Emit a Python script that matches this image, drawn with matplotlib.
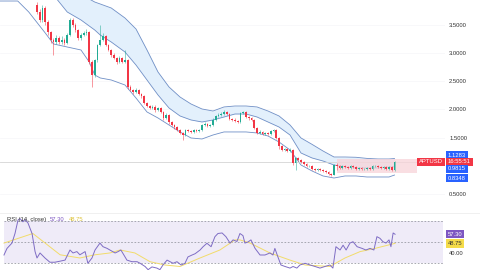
import matplotlib
matplotlib.use('Agg')
import matplotlib.pyplot as plt
from matplotlib.lines import Line2D
from matplotlib.patches import Rectangle
import matplotlib.transforms as mtransforms

# ---------------- data ----------------
first_open = 3.855
closes = [3.731, 3.589, 3.802, 3.553, 3.376, 3.234, 3.198, 3.269, 3.198, 3.234,
          3.180, 3.322, 3.589, 3.500, 3.411, 3.269, 3.322, 3.358, 3.376, 2.843,
          2.612, 2.878, 3.145, 3.234, 3.305, 3.145, 3.056, 2.967, 2.914, 2.843,
          2.914, 2.843, 2.878, 2.399, 2.345, 2.310, 2.345, 2.274, 2.239, 2.115,
          2.061, 2.026, 2.044, 1.990, 2.026, 1.955, 1.848, 1.901, 1.777, 1.724,
          1.688, 1.635, 1.582, 1.546, 1.635, 1.617, 1.600, 1.635, 1.617, 1.635,
          1.724, 1.742, 1.706, 1.724, 1.813, 1.884, 1.901, 1.919, 1.955, 1.919,
          1.830, 1.813, 1.795, 1.777, 1.937, 1.955, 1.866, 1.848, 1.813, 1.671,
          1.582, 1.600, 1.564, 1.582, 1.564, 1.617, 1.635, 1.493, 1.351, 1.280,
          1.298, 1.262, 1.280, 1.049, 1.138, 1.102, 1.067, 1.031, 0.995, 0.995,
          0.942, 0.924, 0.942, 0.924, 0.907, 0.889, 0.853, 0.836, 1.013, 0.995,
          0.960, 0.995, 0.978, 0.960, 0.995, 0.978, 0.942, 0.960, 0.942, 0.942,
          0.960, 0.942, 0.995, 0.995, 0.978, 0.960, 0.978, 0.942, 0.978, 0.924,
          1.067]
highs = [3.90, 3.78, 3.85, 3.83, 3.58, 3.40, 3.27, 3.32, 3.30, 3.30,
         3.27, 3.35, 3.62, 3.62, 3.53, 3.43, 3.36, 3.40, 3.42, 3.40,
         2.87, 2.90, 3.17, 3.50, 3.35, 3.33, 3.17, 3.08, 3.00, 2.94,
         2.95, 2.94, 3.05, 2.90, 2.43, 2.37, 2.38, 2.37, 2.30, 2.26,
         2.14, 2.08, 2.07, 2.07, 2.05, 2.05, 1.98, 1.93, 1.92, 1.80,
         1.75, 1.71, 1.66, 1.60, 1.66, 1.66, 1.64, 1.66, 1.65, 1.66,
         1.75, 1.77, 1.76, 1.75, 1.84, 1.91, 1.93, 1.95, 1.99, 1.97,
         1.94, 1.85, 1.84, 1.82, 1.96, 1.98, 1.97, 1.89, 1.87, 1.83,
         1.69, 1.63, 1.62, 1.60, 1.60, 1.64, 1.66, 1.65, 1.51, 1.37,
         1.32, 1.32, 1.31, 1.30, 1.16, 1.16, 1.12, 1.09, 1.05, 1.02,
         1.01, 0.96, 0.96, 0.96, 0.94, 0.92, 0.90, 0.87, 1.03, 1.04,
         1.01, 1.02, 1.01, 0.99, 1.02, 1.01, 0.99, 0.98, 0.97, 0.96,
         0.98, 0.97, 1.01, 1.01, 1.01, 0.99, 0.99, 0.99, 0.99, 0.99,
         1.09]
lows = [3.70, 3.55, 3.56, 3.50, 3.33, 3.18, 2.97, 3.17, 3.16, 3.17,
        3.14, 3.16, 3.30, 3.47, 3.38, 3.24, 3.24, 3.30, 3.33, 2.80,
        2.40, 2.58, 2.85, 3.12, 3.21, 3.12, 3.03, 2.94, 2.89, 2.81,
        2.82, 2.82, 2.82, 2.36, 2.32, 2.28, 2.29, 2.25, 2.21, 2.09,
        2.04, 2.00, 2.00, 1.96, 1.97, 1.93, 1.82, 1.83, 1.75, 1.70,
        1.66, 1.61, 1.56, 1.45, 1.53, 1.60, 1.58, 1.58, 1.60, 1.60,
        1.62, 1.70, 1.69, 1.69, 1.71, 1.80, 1.87, 1.89, 1.90, 1.90,
        1.81, 1.79, 1.78, 1.76, 1.76, 1.92, 1.85, 1.82, 1.79, 1.65,
        1.56, 1.57, 1.55, 1.55, 1.55, 1.55, 1.60, 1.47, 1.30, 1.26,
        1.26, 1.24, 1.25, 1.02, 0.92, 1.08, 1.05, 1.01, 0.98, 0.97,
        0.93, 0.90, 0.91, 0.91, 0.89, 0.87, 0.84, 0.82, 0.83, 0.92,
        0.94, 0.95, 0.96, 0.94, 0.95, 0.96, 0.93, 0.93, 0.93, 0.93,
        0.93, 0.93, 0.93, 0.98, 0.96, 0.94, 0.95, 0.93, 0.93, 0.91,
        0.91]

band_x = [-14, -7, -3, 3, 6, 11, 16, 19, 21, 23, 27, 32, 36, 40, 44, 48, 52, 56,
          60, 64, 68, 72, 76, 80, 84, 88, 92, 96, 100, 104, 108, 112, 116, 120,
          124, 128, 130]
band_upper = [5.010, 4.921, 4.832, 4.743, 4.654, 4.477, 4.210, 3.962, 3.908, 3.873,
              3.802, 3.624, 3.429, 3.056, 2.665, 2.399, 2.221, 2.097, 2.008, 1.972,
              2.044, 2.061, 2.061, 2.044, 1.972, 1.884, 1.724, 1.493, 1.380, 1.262,
              1.155, 1.155, 1.150, 1.130, 1.120, 1.120, 1.1283]
band_basis = [4.654, 4.566, 4.441, 4.210, 4.033, 3.731, 3.589, 3.482, 3.411, 3.322,
              3.198, 3.020, 2.789, 2.523, 2.257, 2.026, 1.884, 1.813, 1.777, 1.813,
              1.866, 1.919, 1.919, 1.866, 1.777, 1.688, 1.546, 1.226, 1.138, 1.084,
              1.013, 0.978, 0.960, 0.960, 0.960, 0.978, 0.9815]
band_lower = [3.926, 3.926, 3.731, 3.358, 3.163, 3.109, 3.056, 2.843, 2.612, 2.559,
              2.523, 2.434, 2.203, 1.955, 1.848, 1.724, 1.600, 1.493, 1.475, 1.546,
              1.600, 1.600, 1.600, 1.582, 1.528, 1.422, 1.280, 1.013, 0.907, 0.818,
              0.782, 0.818, 0.818, 0.800, 0.800, 0.800, 0.8348]

rsi_x = [-12, -10.9, -9.1, -8, -6.9, -6.2, -5.1, -4.4, -3.3, -1.8, -0.7, 0, 1.1, 2.9,
         4.7, 6.5, 8.4, 10.2, 12, 13.1, 14.5, 15.6, 17.5, 18.5, 20, 21.1, 22.9, 24,
         25.5, 26.5, 28.4, 29.5, 30.5, 31.6, 32.7, 34.5, 36.4, 37.5, 39.3, 40.4,
         41.8, 43.6, 44.7, 45.8, 47.3, 48.4, 49.5, 50.9, 52.4, 53.8, 54.9, 56.4,
         57.5, 59.3, 60.4, 61.8, 63.3, 64.7, 65.8, 67.3, 68.7, 70.2, 71.3, 72.7,
         73.8, 74.9, 75.6, 76.7, 77.8, 79.3, 81.1, 82.9, 84.7, 85.8, 86.5, 87.6,
         88.7, 90.2, 92, 93.1, 94.5, 95.6, 97.5, 99.3, 101.1, 102.9, 104.7, 106.5,
         107.6, 108.7, 110.2, 111.3, 112.4, 113.8, 114.9, 116.4, 118.2, 119.6,
         121.1, 122.5, 123.6, 124.7, 125.8, 126.9, 128, 128.7, 129.5, 130.2]
rsi = [37.8, 44, 49, 58, 70.6, 72, 69, 71, 68, 58, 41, 35, 39.7, 35,
       31, 31, 32, 33, 42.5, 39.7, 41, 38, 41, 30, 35, 42.5, 49, 45.6,
       44, 42.5, 39.7, 41, 42.5, 37.8, 33, 31.5, 31.5, 30, 27, 24,
       26.6, 25.5, 24, 28.4, 33, 31.5, 30, 31.5, 28.4, 30, 36, 37.8,
       39, 42.5, 45.6, 48.8, 45.6, 55, 58, 58.5, 55, 49, 52, 50.5,
       58, 56, 49, 50, 52, 44, 37.8, 37.8, 39.7, 37.8, 44, 36,
       28.4, 27, 25.5, 27, 25.5, 28.4, 30, 28.4, 27, 25.5, 27, 28.4,
       25.5, 45.6, 42.5, 47, 42.5, 49, 50.3, 45.6, 44, 42.5,
       44, 42.5, 55, 53.5, 50.3, 49, 52, 45.6, 58.5, 57.30]
rsi_ma_x = [-12, -1.5, 8.4, 15.6, 21.1, 26.5, 30.2, 35.6, 41.1, 46.5, 52, 59.3,
            66.5, 72, 73.8, 77.5, 84.7, 92, 97.5, 106.5, 112, 117.5, 122.9, 130.2]
rsi_ma = [49, 58, 38, 35, 38, 39.7, 42.5, 39.7, 31.5, 28.4, 27, 35,
          42.5, 52, 52, 49, 39.7, 33, 28.4, 27, 35, 41, 44, 48.75]
rsi_levels = [70, 50, 30]

price_ticks = [0.5, 1.5, 2.0, 2.5, 3.0, 3.5]
highlight_x = (109.1, 138.2)
highlight_y = (0.871, 1.120)
symbol = "APTUSD"
countdown = "16:55:51"
rsi_title = "RSI (14, close)"

# ---------------- style ----------------
UP, DOWN = '#22ab94', '#f23645'
BAND = '#6f8fc6'
FS = 4.2
plt.rcParams['font.family'] = ['Liberation Sans', 'DejaVu Sans']

W, H = 480, 270
fig = plt.figure(figsize=(4.8, 2.7), dpi=100)
fig.patch.set_facecolor('white')

x_left, x_right = -13.45, 148.36
ax = fig.add_axes([0, 1 - 212 / H, 445 / W, 212 / H])
ax2 = fig.add_axes([0, 0, 445 / W, 58 / H])
for a in (ax, ax2):
    a.set_xlim(x_left, x_right)
    for s in a.spines.values():
        s.set_visible(False)
    a.set_xticks([])
    a.set_facecolor('none')

ax.set_ylim(0.178, 3.944)

# bands: fill between upper and basis
ax.fill_between(band_x, band_basis, band_upper, color='#e3f0fc', lw=0, zorder=0)
for b in (band_upper, band_basis, band_lower):
    ax.plot(band_x, b, color=BAND, lw=0.6, zorder=1)

# highlight box + last price line
ax.add_patch(Rectangle((highlight_x[0], highlight_y[0]),
                       highlight_x[1] - highlight_x[0], highlight_y[1] - highlight_y[0],
                       facecolor='#f8d3d9', alpha=0.75, lw=0, zorder=1.5))
ax.axhline(closes[-1], color='#d4d4d4', lw=0.6, zorder=1.2)

# candles
opens = [first_open] + closes[:-1]
xs = list(range(len(closes)))
cols = [UP if c >= o else DOWN for o, c in zip(opens, closes)]
ax.vlines(xs, lows, highs, colors=cols, lw=0.45, alpha=0.8, zorder=2)
ax.bar(xs, [c - o for o, c in zip(opens, closes)], bottom=opens, width=0.7,
       color=cols, lw=0, zorder=3)

# price axis
ax.yaxis.tick_right()
ax.set_yticks(price_ticks)
ax.set_yticklabels([f'{t:.4f}' for t in price_ticks], fontsize=FS, color='#333333')
ax.tick_params(axis='y', length=0, pad=3)
for t in price_ticks:
    ax.axhline(t, color='#f5f6f9', lw=0.5, zorder=-1)

tr = mtransforms.blended_transform_factory(ax.transAxes, ax.transData)
def tag(a, trans, y, text, fc, tc, dy=0):
    a.annotate(text, xy=(1.0, y), xycoords=trans, xytext=(3, dy), textcoords='offset pixels',
               fontsize=FS, color=tc, ha='left', va='center', annotation_clip=False,
               bbox=dict(boxstyle='square,pad=0.3', fc=fc, ec='none'), zorder=10)

tag(ax, tr, band_upper[-1], f'{band_upper[-1]:.4f}', '#2962ff', 'white', dy=3)
tag(ax, tr, closes[-1], countdown, '#f23645', 'white', dy=0)
tag(ax, tr, band_basis[-1], f'{band_basis[-1]:.4f}', '#2962ff', 'white', dy=-2)
tag(ax, tr, band_lower[-1], f'{band_lower[-1]:.4f}', '#2962ff', 'white', dy=-3)
ax.annotate(symbol, xy=(1.0, closes[-1]), xycoords=tr, xytext=(-2, 0),
            textcoords='offset pixels', fontsize=FS, color='white', ha='right', va='center',
            annotation_clip=False,
            bbox=dict(boxstyle='square,pad=0.3', fc='#f23645', ec='none'), zorder=10)

# pane separator
fig.add_artist(Line2D([0, 1], [1 - 212.5 / H] * 2, color='#eeeeee', lw=0.6))

# RSI pane
ax2.set_ylim(23.7, 78.2)
xm0, xm1 = 4 / 445, 443 / 445
ax2.axhspan(30, 70, xmin=xm0, xmax=xm1, color='#efebf8', lw=0, zorder=0)
for lv in rsi_levels:
    ax2.axhline(lv, xmin=xm0, xmax=xm1, color='#9a9ca5', lw=0.6, ls=(0, (2, 2)), zorder=1)
ax2.plot(rsi_ma_x, rsi_ma, color='#f2dc6a', lw=0.7, zorder=2)
ax2.plot(rsi_x, rsi, color='#7e6cc4', lw=0.7, zorder=3)
ax2.set_yticks([40])
ax2.yaxis.tick_right()
ax2.set_yticklabels(['40.00'], fontsize=FS, color='#333333')
ax2.tick_params(axis='y', length=0, pad=3)

tr2 = mtransforms.blended_transform_factory(ax2.transAxes, ax2.transData)
tag(ax2, tr2, rsi[-1], f'{rsi[-1]:.2f}', '#7e57c2', 'white')
tag(ax2, tr2, rsi_ma[-1], f'{rsi_ma[-1]:.2f}', '#f5dc4a', '#333333')

t1 = fig.text(7 / W, 1 - 220 / H, rsi_title, fontsize=FS, color='#333333', va='center')
t2 = fig.text(0, 0, f'{rsi[-1]:.2f}', fontsize=FS, color='#7e57c2', va='center')
t3 = fig.text(0, 0, f'{rsi_ma[-1]:.2f}', fontsize=FS, color='#dcc23a', va='center')
fig.canvas.draw()
r = fig.canvas.get_renderer()
inv = fig.transFigure.inverted()
b1 = t1.get_window_extent(r)
t2.set_position(inv.transform((b1.x1 + 4, (b1.y0 + b1.y1) / 2)))
b2 = t2.get_window_extent(r)
t3.set_position(inv.transform((b2.x1 + 4, (b1.y0 + b1.y1) / 2)))

fig.savefig('out.png', dpi=100, facecolor='white')
